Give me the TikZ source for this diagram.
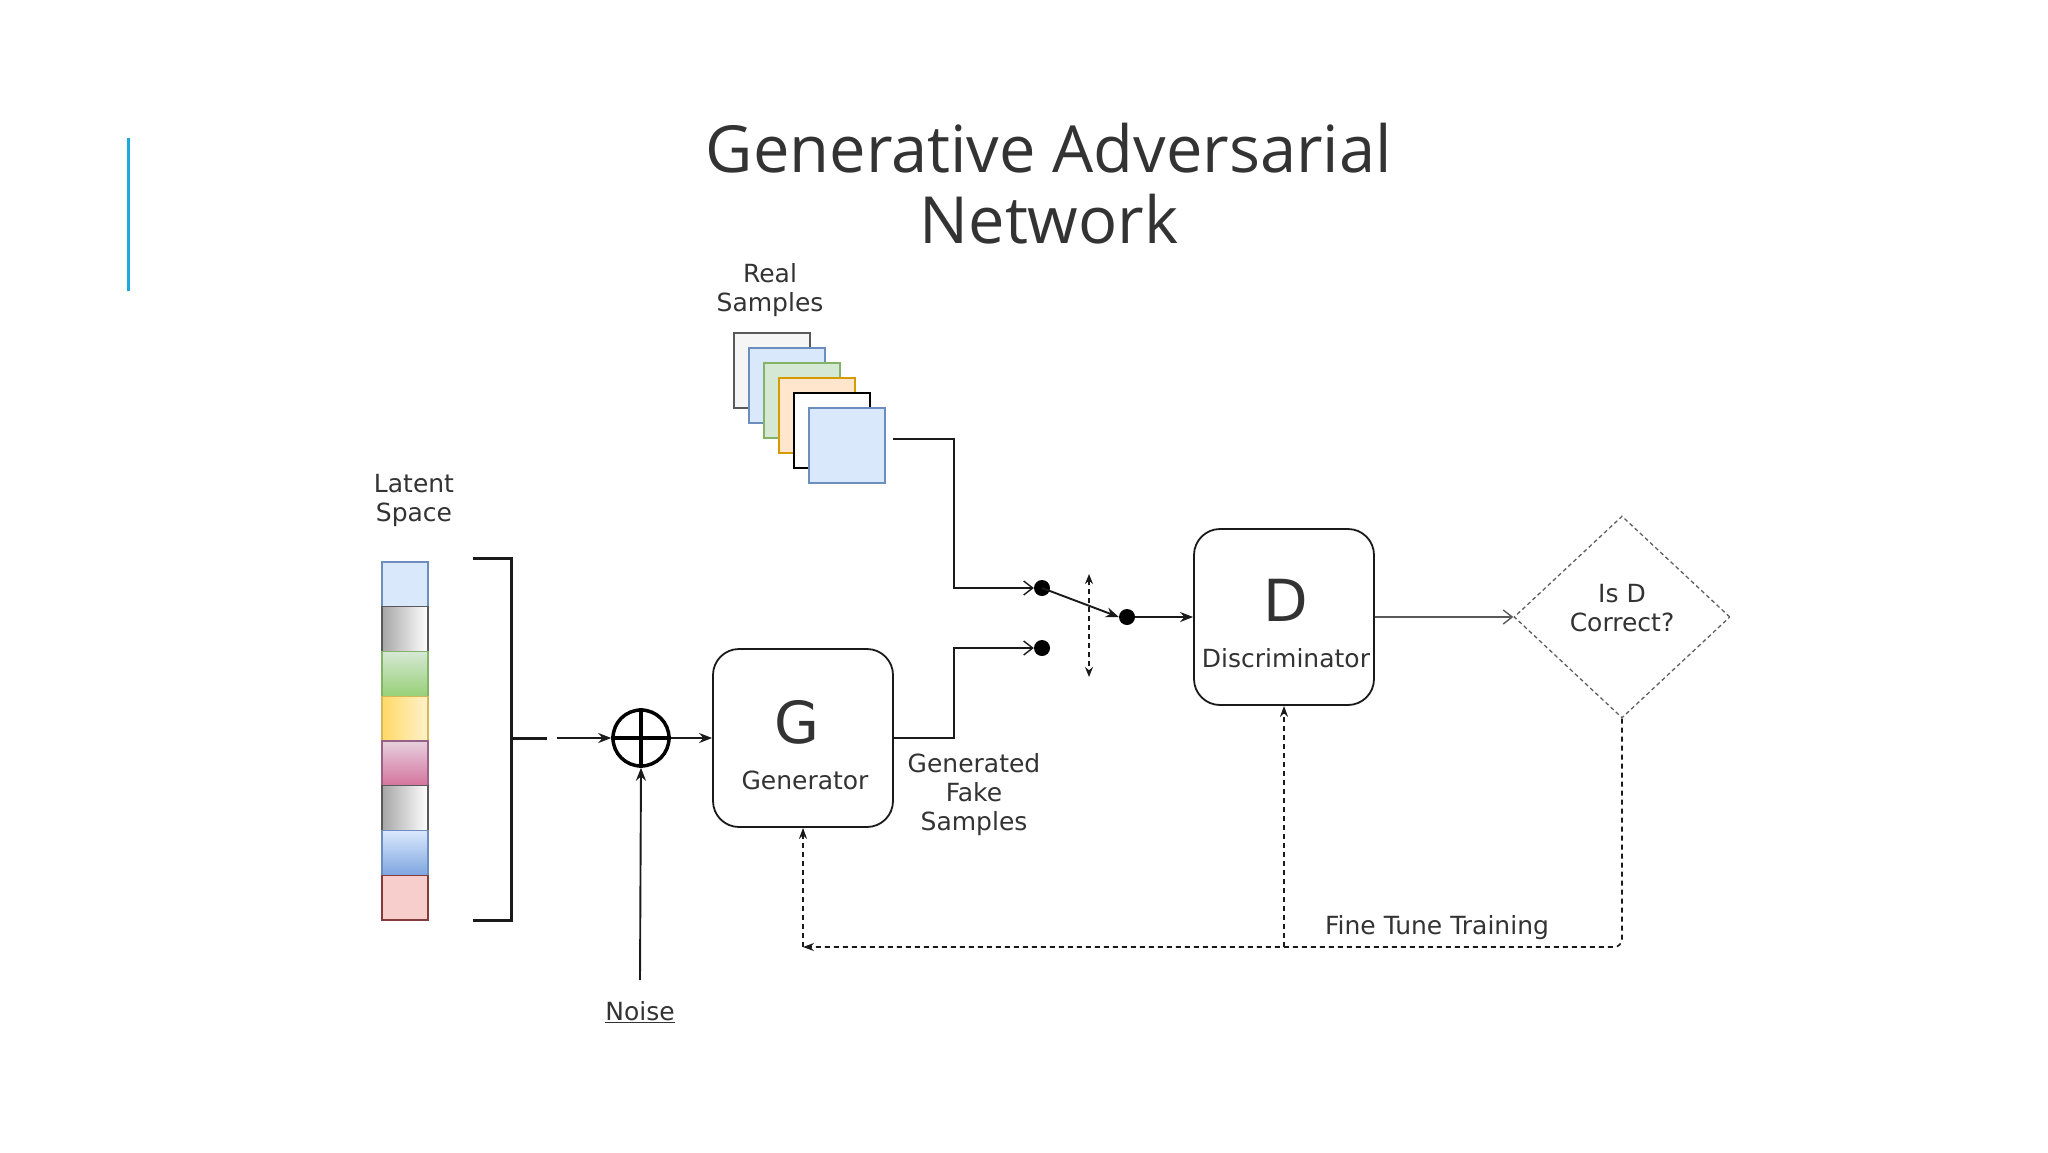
\documentclass[tikz,border=0pt]{standalone}
\usepackage{fontspec}
\setmainfont{DejaVu Sans}
\newfontfamily\titlefont{Open Sans}
\usetikzlibrary{arrows.meta,shapes.geometric,calc}
\definecolor{txt}{HTML}{333333}
\definecolor{ln}{HTML}{1A1A1A}
\definecolor{accent}{HTML}{1CA9E0}
\begin{document}
\begin{tikzpicture}[x=1pt,y=-1pt,
  lbl/.style={font=\fontsize{25}{29}\selectfont, text=txt, inner sep=0, align=center},
  big/.style={font=\fontsize{58}{60}\selectfont, text=txt, inner sep=0},
  blockbox/.style={draw=ln, line width=1.8, rounded corners=26, minimum width=180, minimum height=178, inner sep=0},
  sq/.style={minimum width=76, minimum height=75, line width=1.6, inner sep=0},
  cell/.style={minimum width=46, minimum height=44.75, line width=1.2, inner sep=0},
  dot/.style={circle, fill=black, minimum size=16, inner sep=0},
  conn/.style={draw=ln, line width=1.9},
  fill tip/.style={-{Stealth[length=13,width=10]}},
  open tip/.style={-{Straight Barb[length=9,width=14,line width=1.4]}},
  dsh/.style={dash pattern=on 5 off 4, line width=1.6, draw=ln},
]
\useasboundingbox (0,0) rectangle (2048,1152);
\fill[white] (0,0) rectangle (2048,1152);

% accent bar and title
\draw[accent, line width=3] (128,138) -- (128,291);
\node[font=\titlefont\fontsize{65}{71}\selectfont, text=txt, align=center, inner sep=0] (title) at (1049,184) {Generative Adversarial\\Network};

% real samples
\node[lbl] (reallbl) at (770,290) {Real\\Samples};
\node[sq, fill=gray!8, draw=gray!70!black] (s1) at (772,370.5) {};
\node[sq, fill={rgb,255:red,218;green,232;blue,252}, draw={rgb,255:red,108;green,142;blue,191}] (s2) at (787,385.5) {};
\node[sq, fill={rgb,255:red,213;green,232;blue,212}, draw={rgb,255:red,130;green,179;blue,102}] (s3) at (802,400.5) {};
\node[sq, fill={rgb,255:red,255;green,230;blue,204}, draw={rgb,255:red,215;green,155;blue,0}] (s4) at (817,415.5) {};
\node[sq, fill=white, draw=black] (s5) at (832,430.5) {};
\node[sq, fill={rgb,255:red,218;green,232;blue,252}, draw={rgb,255:red,108;green,142;blue,191}] (s6) at (847,445.5) {};

% latent space
\node[lbl] (latlbl) at (414,500) {Latent\\Space};
\node[cell, fill={rgb,255:red,218;green,232;blue,252}, draw={rgb,255:red,108;green,142;blue,191}] (c1) at (405,584.4) {};
\node[cell, left color=gray!70, right color=white, draw=gray!70!black] (c2) at (405,629.1) {};
\node[cell, top color={rgb,255:red,213;green,232;blue,212}, bottom color={rgb,255:red,151;green,208;blue,119}, draw={rgb,255:red,130;green,179;blue,102}] (c3) at (405,673.9) {};
\node[cell, left color={rgb,255:red,255;green,217;blue,102}, right color={rgb,255:red,255;green,242;blue,204}, draw={rgb,255:red,214;green,182;blue,86}] (c4) at (405,718.6) {};
\node[cell, top color={rgb,255:red,230;green,208;blue,222}, bottom color={rgb,255:red,213;green,115;blue,157}, draw={rgb,255:red,153;green,97;blue,133}] (c5) at (405,763.4) {};
\node[cell, left color=gray!70, right color=white, draw=gray!70!black] (c6) at (405,808.1) {};
\node[cell, top color={rgb,255:red,218;green,232;blue,252}, bottom color={rgb,255:red,126;green,166;blue,224}, draw={rgb,255:red,108;green,142;blue,191}] (c7) at (405,852.9) {};
\node[cell, fill={rgb,255:red,248;green,206;blue,204}, draw={rgb,255:red,130;green,60;blue,60}] (c8) at (405,897.6) {};

% bracket
\coordinate (bt) at (473,558);
\coordinate (bb) at (473,920);
\coordinate (bm) at (511,738);
\draw[ln, line width=3] (bt) -- (511,558) -- (511,920) -- (bb);
\draw[ln, line width=3] (bm) -- (547,738);
\coordinate (ain) at (557,738);

% oplus
\node[circle, draw=black, line width=3.5, minimum size=56, inner sep=0] (P) at (641,738) {};
\draw[black, line width=3.5] (P.north) -- (P.south) (P.west) -- (P.east);
\draw[conn, fill tip] (ain) -- (P.west);

% noise
\node[lbl] (noise) at (640,1012) {\underline{Noise}};
\coordinate (nz) at (640,980);
\draw[conn, fill tip] (nz) -- (P.south);

% generator
\node[blockbox] (G) at (803,738) {};
\node[big] (Gl) at (797,722) {G};
\node[lbl] (Gt) at (805,780) {Generator};
\draw[conn, fill tip] (P.east) -- (G.west);
\node[lbl] (fakelbl) at (974,795) {Generated\\Fake\\Samples};

% switch
\node[dot] (d1) at (1042,588) {};
\node[dot] (d2) at (1042,648) {};
\node[dot] (d3) at (1127,617) {};
\coordinate (r0) at (893,439);
\draw[conn, open tip] (r0) -- (954,439) -- (954,588) -- (d1.west);
\draw[conn, open tip] (G.east) -- (954,738) -- (954,648) -- (d2.west);
\draw[conn, -{Stealth[length=13,width=10]}] (d1.center) -- (d3.west);
\coordinate (sw1) at (1089,574);
\coordinate (sw2) at (1089,677);
\draw[dsh, {Stealth[length=10,width=8]}-{Stealth[length=10,width=8]}] (sw1) -- (sw2);

% discriminator
\node[blockbox, minimum height=176] (D) at (1284,617) {};
\node[big] (Dl) at (1286,600) {D};
\node[lbl] (Dt) at (1286,658) {Discriminator};
\draw[conn, fill tip] (d3.east) -- (D.west);

% decision
\node[diamond, draw=gray!75!black, dash pattern=on 4 off 3, line width=1.3, minimum width=216, minimum height=202, inner sep=0] (Q) at (1622,617) {};
\node[lbl] (Qt) at (1622,608) {Is D\\Correct?};
\draw[draw=gray!70!black, line width=2, open tip] (D.east) -- (Q.west);

% feedback
\coordinate (fbG) at (803,947);
\coordinate (fbD) at (1284,947);
\draw[dsh, rounded corners=8, -{Stealth[length=11,width=8]}] (Q.south) |- (fbG);
\draw[dsh, -{Stealth[length=11,width=8]}] (fbG) -- (G.south);
\draw[dsh, -{Stealth[length=11,width=8]}] (fbD) -- (D.south);
\node[lbl] (ft) at (1437,928) {Fine Tune Training};
\end{tikzpicture}
\end{document}
